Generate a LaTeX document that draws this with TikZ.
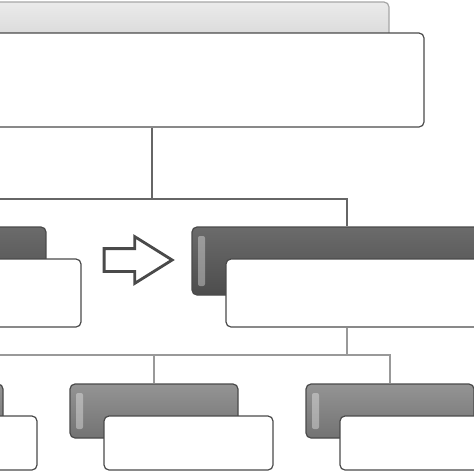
\documentclass[tikz,border=0pt]{standalone}
\usepackage{amsmath, amsfonts, amssymb}
\usepackage{xcolor}
\usepackage{tikz}
\usetikzlibrary{shapes.arrows}

\definecolor{edgegray}{HTML}{4A4A4A}
\definecolor{linegray}{HTML}{666666}
\definecolor{buslight}{HTML}{999999}

\begin{document}
\begin{tikzpicture}[x=1pt, y=-1pt,
    box/.style={shape=rectangle, rounded corners=5pt, draw=edgegray, line width=1.2pt, inner sep=0pt},
    bevel/.style={path picture={\fill[white, opacity=0.35, rounded corners=2pt]
        ([xshift=6pt, yshift=-9pt]path picture bounding box.north west) rectangle
        ([xshift=13pt, yshift=9pt]path picture bounding box.south west);}},
    whitebox/.style={box, fill=white, minimum height=68pt},
    darkbox/.style={box, bevel, top color=black!58, bottom color=black!70, minimum height=68pt},
    midbox/.style={box, bevel, top color=black!42, bottom color=black!55, minimum height=54pt},
    lowwhite/.style={box, fill=white, minimum height=54pt},
    topline/.style={line width=2.6pt, draw=linegray},
    lowline/.style={line width=2pt, draw=buslight}]
    \useasboundingbox (0,0) rectangle (474,474);
    \clip (0,0) rectangle (474,474);

    % top level
    \node[box, top color=black!8, bottom color=black!16, draw=black!35, minimum width=409pt, minimum height=43pt] (T) at (184.5, 23.5) {};
    \node[box, fill=white, minimum width=444pt, minimum height=94pt] (W) at (202, 80) {};

    % middle level
    \node[darkbox, minimum width=106pt] (Ld) at (-7, 261) {};
    \node[whitebox, minimum width=111pt] (Lw) at (25.5, 293) {};
    \node[darkbox, minimum width=310pt] (Md) at (347, 261) {};
    \node[whitebox, minimum width=314pt] (Mw) at (383, 293) {};

    \node[single arrow, draw=edgegray, line width=2.8pt, fill=white, inner xsep=0pt, inner ysep=10pt,
          minimum height=68pt, single arrow head extend=12pt, single arrow tip angle=64] (A) at (129, 260) {};

    % bottom level
    \node[midbox, minimum width=168pt] (B0d) at (-81, 411) {};
    \node[lowwhite, minimum width=169pt] (B0w) at (-47.5, 443) {};
    \node[midbox, minimum width=168pt] (B1d) at (154, 411) {};
    \node[lowwhite, minimum width=169pt] (B1w) at (188.5, 443) {};
    \node[midbox, minimum width=168pt] (B2d) at (390, 411) {};
    \node[lowwhite, minimum width=169pt] (B2w) at (424.5, 443) {};

    \coordinate (bus1) at (152, 199);
    \coordinate (bus2) at (347, 355);

    \path[topline] (W.south -| bus1) edge (bus1);
    \draw[topline] (Ld.north) |- (bus1) -| (Md.north);

    \path[lowline] (Mw.south -| bus2) edge (bus2);
    \draw[lowline] (B0d.north) |- (bus2) -| (B2d.north);
    \path[lowline] (B1d.north |- bus2) edge (B1d.north);

\end{tikzpicture}
\end{document}
